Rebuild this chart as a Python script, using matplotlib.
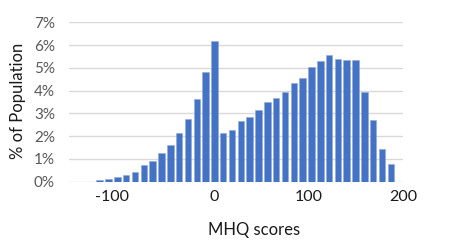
import matplotlib

matplotlib.use("Agg")
import matplotlib.pyplot as plt

BLUE = "#4472C4"
GRID = "#D9D9D9"
GREY = "#595959"

# bin centres (MHQ score bins of 10) and share of population in %
bins = list(range(-160, 201, 10))
share = [0, 0, 0,
         0.07, 0.12, 0.19, 0.29, 0.41, 0.73, 0.92, 1.24, 1.63, 2.14,
         2.74, 3.64, 4.80, 6.16, 2.16, 2.26, 2.66, 2.86, 3.16, 3.48,
         3.67, 3.96, 4.35, 4.54, 5.04, 5.28, 5.55, 5.39, 5.36, 5.36,
         3.96, 2.69, 1.44, 0.79]

# the labels in the original sit a little off the bin grid
xtick_pos = [-116, 0, 107, 214]
xtick_lab = ["-100", "0", "100", "200"]
ytick_pos = [0, 1, 2, 3, 4, 5, 6, 7]
ytick_lab = ["0%", "1%", "2%", "3%", "4%", "5%", "6%", "7%"]

plt.rcParams["font.family"] = ["Lato", "DejaVu Sans"]

fig = plt.figure(figsize=(4.5, 2.52), dpi=100)
ax = fig.add_axes([0.153, 0.279, 0.743, 0.6325])

ax.bar(bins, share, width=7.4, color=BLUE, edgecolor="#8EA9DB",
       linewidth=0.4, zorder=3)

ax.set_xlim(-165, 205)
ax.set_ylim(0, 7)
ax.set_yticks(ytick_pos, ytick_lab)
ax.set_xticks(xtick_pos, xtick_lab)
ax.tick_params(axis="y", length=0, pad=10, labelsize=11, labelcolor=GREY)
ax.tick_params(axis="x", length=0, pad=6, labelsize=11.5, labelcolor="#1a1a1a")
ax.grid(axis="y", color=GRID, linewidth=1, zorder=0)
for s in ax.spines.values():
    s.set_visible(False)

fig.text(254 / 450, 1 - 230 / 252, "MHQ scores", ha="center", va="center",
         fontsize=12, color="#1a1a1a")
fig.text(18 / 450, 1 - 101 / 252, "% of Population", ha="center",
         va="center", rotation=90, fontsize=12, color="#1a1a1a")

fig.savefig("out.png", dpi=100, facecolor="white")
